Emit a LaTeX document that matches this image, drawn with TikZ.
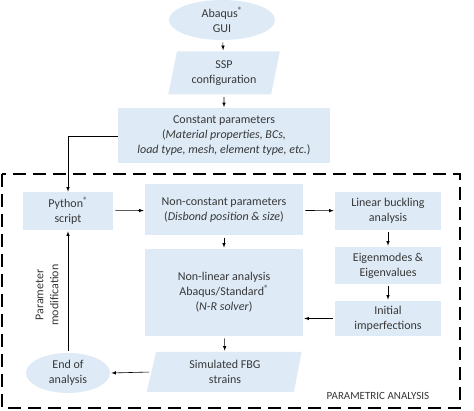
\documentclass[tikz,border=0pt]{standalone}
\usepackage{fontspec}
\setmainfont{Carlito}
\usetikzlibrary{shapes.geometric,positioning}
\definecolor{boxblue}{RGB}{222,235,247}
\definecolor{boxtext}{RGB}{55,55,55}
\newcommand{\regmark}{\raisebox{0.8ex}{\small ®}}

\begin{document}
\begin{tikzpicture}[x=1pt,y=-1pt,->,>=latex,line width=0.6pt,
      every node/.style={font=\fontsize{12}{15}\selectfont,text=boxtext,align=center,inner sep=1pt},
      main node/.style={rectangle,fill=boxblue},
      oval node/.style={ellipse,fill=boxblue},
      io node/.style={trapezium,trapezium left angle=77,trapezium right angle=103,
        trapezium stretches=true,fill=boxblue}]
 \useasboundingbox (0,0) rectangle (474,411);
 % parametric loop frame
 \draw[-,line width=2.6pt,dash pattern=on 13pt off 7pt] (2,174) rectangle (460,408);
 \node[font=\fontsize{11}{13}\selectfont] (para) at (378,396) {PARAMETRIC ANALYSIS};

 \node[oval node, minimum width=106, minimum height=40] (gui) at (222,20) {Abaqus\regmark\\GUI};
 \node[io node, minimum width=112, minimum height=43] (ssp) at (224,73) {SSP\\configuration};
 \node[main node, minimum width=212, minimum height=55] (const) at (224,136)
   {Constant parameters\\(\textit{Material properties, BCs,}\\\textit{load type, mesh, element type, etc.})};
 \node[main node, minimum width=90, minimum height=38] (python) at (68,211) {Python\regmark\\script};
 \node[main node, minimum width=158, minimum height=51] (noncon) at (224,210)
   {Non-constant parameters\\(\textit{Disbond position \& size})};
 \node[main node, minimum width=106, minimum height=38] (lin) at (388,211) {Linear buckling\\analysis};
 \node[main node, minimum width=106, minimum height=37] (eig) at (388,265.5) {Eigenmodes \&\\Eigenvalues};
 \node[main node, minimum width=106, minimum height=35] (imp) at (388,318.5) {Initial\\imperfections};
 \node[main node, minimum width=158, minimum height=87] (nonlin) at (224,292.5)
   {Non-linear analysis\\Abaqus/Standard\regmark\\(\textit{N-R solver})};
 \node[io node, trapezium left angle=79, trapezium right angle=99, minimum width=156, minimum height=40] (fbg) at (225,372)
   {Simulated FBG\\strains};
 \node[oval node, minimum width=84, minimum height=40] (end) at (68,373) {End of\\analysis};
 \node[rotate=90] (modif) at (47,295) {Parameter\\modification};

\path[shorten >=1pt,shorten <=2pt]
 (gui) edge (ssp)
 (ssp) edge (const)
 (python) edge (noncon)
 (noncon) edge (lin)
 (lin) edge (eig)
 (eig) edge (imp)
 (noncon) edge (nonlin)
 (nonlin) edge (fbg)
 (fbg.west) edge (end.east)
 (end) edge (python)
 ;
 \draw (const.west) -| (python.north);
 \draw[shorten >=1pt,shorten <=2pt] (imp.west) -- (imp.west -| nonlin.east);
\end{tikzpicture}
\end{document}
